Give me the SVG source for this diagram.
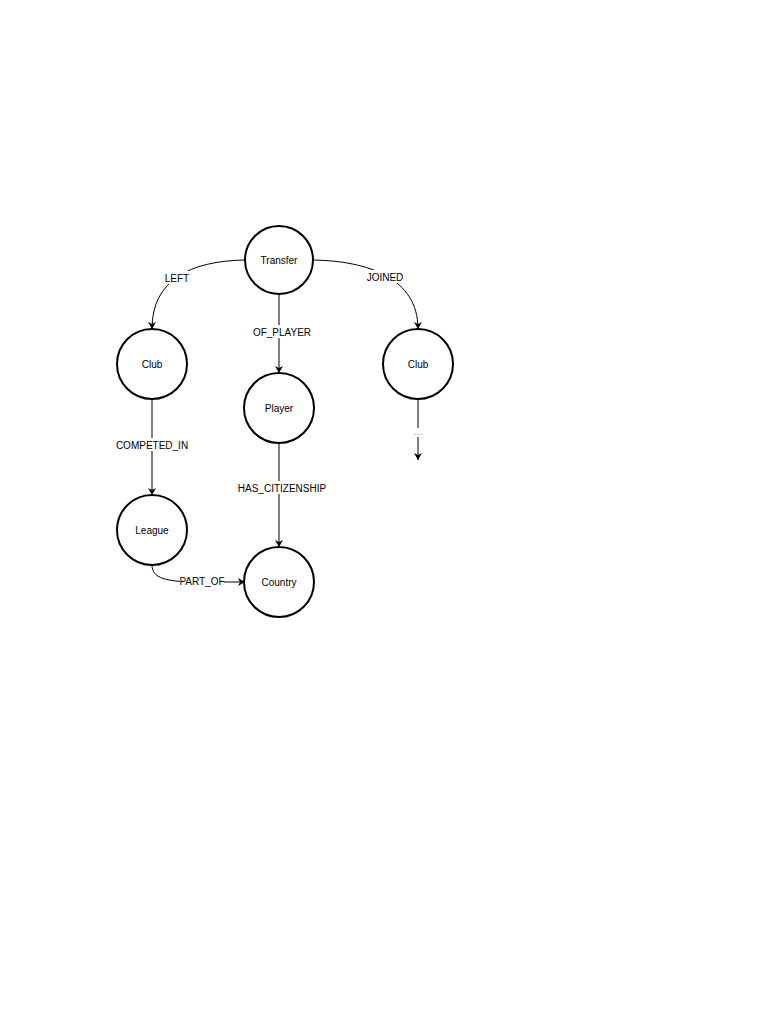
<svg xmlns="http://www.w3.org/2000/svg" width="768" height="1024" viewBox="0 0 768 1024">
<defs>
<marker id="arr" markerWidth="10" markerHeight="10" refX="8" refY="5" orient="auto" markerUnits="userSpaceOnUse">
<path d="M1,1 L8,5 L1,9 L3,5 Z" fill="#000"/>
</marker>
<style>
.node circle{fill:#fff;stroke:#000;stroke-width:2}
.node text{font-family:"Liberation Sans",Arial,sans-serif;font-size:10px;fill:#000;text-anchor:middle;dominant-baseline:central}
.edge{fill:none;stroke:#000;stroke-width:1;marker-end:url(#arr)}
.lbl{font-family:"Liberation Sans",Arial,sans-serif;font-size:10px;fill:#000;text-anchor:middle;dominant-baseline:central}
.lblbg{fill:#fff}
.dots{font-family:"Liberation Sans",Arial,sans-serif;font-size:11px;fill:#999;text-anchor:middle}
</style>
</defs>
<rect width="768" height="1024" fill="#fff"/>
<g id="connectors">
<path class="edge" d="M245,260 C190,261 152,280 152,329"/>
<rect class="lblbg" x="164" y="271" width="27" height="13"/>
<text class="lbl" x="177" y="278">LEFT</text>
<path class="edge" d="M313,260 C368,261 418,278 418,329"/>
<rect class="lblbg" x="366" y="270" width="38" height="13"/>
<text class="lbl" x="385" y="277">JOINED</text>
<path class="edge" d="M279,295 L279,373"/>
<rect class="lblbg" x="253" y="325" width="58" height="13"/>
<text class="lbl" x="282" y="332">OF_PLAYER</text>
<path class="edge" d="M152,399 L152,495"/>
<rect class="lblbg" x="117" y="438" width="70" height="13"/>
<text class="lbl" x="152" y="445">COMPETED_IN</text>
<path class="edge" d="M279,443 L279,547"/>
<rect class="lblbg" x="240" y="481" width="84" height="13"/>
<text class="lbl" x="282" y="488">HAS_CITIZENSHIP</text>
<path class="edge" d="M152,565 C152,578 165,582 200,582 L245,582"/>
<rect class="lblbg" x="180" y="575" width="44" height="13"/>
<text class="lbl" x="202" y="581">PART_OF</text>
<path class="edge" d="M418,399 L418,460"/>
<rect class="lblbg" x="410" y="428" width="16" height="9"/>
<text class="dots" x="418" y="435">...</text>
</g>
<g id="transfer" class="node"><circle cx="279" cy="260" r="34"/><text x="279" y="260">Transfer</text></g>
<g id="club-left" class="node"><circle cx="152" cy="364" r="35"/><text x="152" y="364">Club</text></g>
<g id="club-right" class="node"><circle cx="418" cy="364" r="35"/><text x="418" y="364">Club</text></g>
<g id="player" class="node"><circle cx="279" cy="408" r="35"/><text x="279" y="408">Player</text></g>
<g id="league" class="node"><circle cx="152" cy="530" r="35"/><text x="152" y="530">League</text></g>
<g id="country" class="node"><circle cx="279" cy="582" r="35"/><text x="279" y="582">Country</text></g>
</svg>
